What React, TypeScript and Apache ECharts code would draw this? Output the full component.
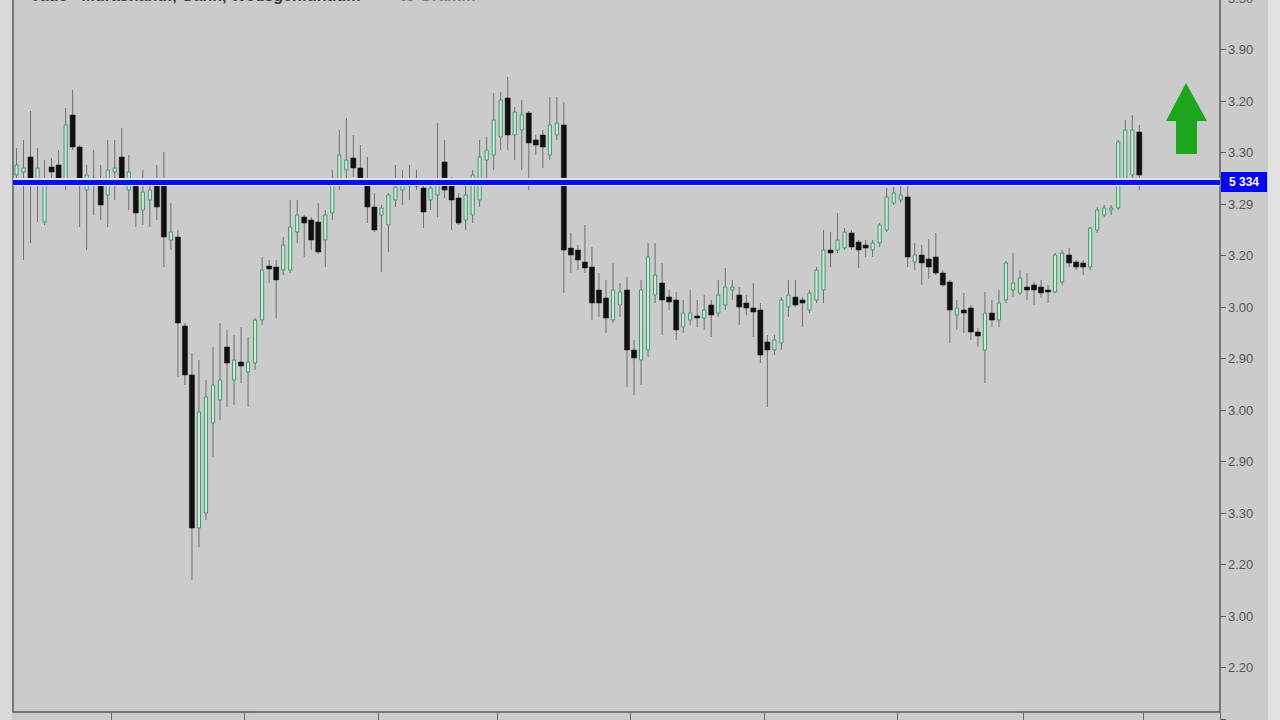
import React, { useEffect, useRef } from "react";
import * as echarts from "echarts";

// [open, close, low, high] in chart price units
const CANDLES: [number, number, number, number][] = [
  [544, 554, 534, 571], [547, 551, 459, 579], [562, 539, 476, 608], [537, 551, 497, 571],
  [497, 539, 494, 559], [552, 547, 539, 561], [554, 541, 537, 569], [539, 594, 529, 611],
  [604, 572, 569, 629], [572, 541, 492, 574], [529, 544, 469, 554], [534, 541, 504, 569],
  [534, 514, 499, 554], [524, 549, 492, 579], [547, 551, 519, 579], [562, 541, 539, 591],
  [529, 547, 509, 564], [534, 506, 492, 536], [509, 527, 494, 549], [519, 529, 492, 541],
  [536, 512, 499, 554], [536, 482, 452, 567], [479, 487, 469, 516], [482, 396, 342, 489],
  [393, 344, 334, 396], [344, 191, 139, 366], [191, 307, 172, 359], [206, 322, 199, 339],
  [296, 334, 262, 372], [319, 339, 299, 396], [372, 356, 312, 389], [339, 359, 314, 384],
  [357, 353, 336, 392], [347, 357, 312, 382], [356, 399, 349, 401], [399, 449, 394, 462],
  [453, 450, 436, 459], [452, 439, 401, 459], [449, 474, 444, 482], [449, 492, 446, 519],
  [487, 504, 476, 519], [502, 496, 462, 504], [499, 479, 469, 502], [497, 467, 465, 516],
  [479, 504, 452, 509], [506, 539, 499, 549], [534, 564, 529, 589], [549, 559, 539, 601],
  [561, 551, 542, 584], [551, 539, 536, 574], [534, 512, 496, 562], [512, 489, 487, 526],
  [504, 511, 447, 514], [494, 524, 467, 526], [519, 532, 512, 554], [529, 536, 514, 549],
  [533, 536, 519, 554], [535, 533, 529, 549], [531, 507, 491, 534], [519, 531, 509, 539],
  [524, 539, 502, 596], [557, 529, 521, 579], [536, 519, 489, 542], [521, 496, 494, 526],
  [499, 524, 489, 539], [504, 544, 496, 549], [519, 562, 512, 579], [559, 569, 539, 582],
  [564, 599, 549, 626], [582, 619, 569, 627], [621, 584, 569, 642], [584, 607, 559, 612],
  [589, 604, 549, 619], [606, 576, 529, 608], [579, 574, 564, 584], [584, 572, 551, 589],
  [564, 594, 559, 622], [584, 596, 579, 622], [594, 469, 426, 617], [471, 464, 446, 486],
  [469, 459, 449, 474], [457, 451, 446, 494], [452, 416, 399, 472], [429, 416, 402, 446],
  [421, 401, 386, 439], [399, 429, 396, 456], [414, 427, 402, 436], [429, 369, 332, 442],
  [369, 361, 324, 379], [359, 429, 334, 439], [369, 462, 362, 476], [424, 444, 416, 476],
  [436, 419, 384, 456], [422, 417, 409, 429], [419, 389, 379, 427], [392, 406, 386, 419],
  [399, 406, 394, 429], [403, 401, 392, 419], [401, 409, 389, 424], [414, 404, 382, 419],
  [406, 424, 402, 439], [414, 432, 409, 451], [429, 432, 419, 439], [424, 412, 394, 432],
  [416, 411, 404, 424], [411, 407, 382, 436], [409, 364, 356, 416], [377, 369, 312, 384],
  [369, 379, 364, 384], [376, 419, 369, 422], [412, 424, 402, 439], [422, 414, 412, 439],
  [419, 416, 392, 422], [409, 426, 406, 429], [419, 449, 416, 452], [429, 469, 416, 489],
  [469, 466, 452, 487], [469, 479, 466, 506], [471, 487, 469, 491], [486, 472, 469, 489],
  [477, 469, 451, 479], [474, 471, 462, 479], [469, 476, 462, 479], [476, 494, 472, 496],
  [489, 522, 487, 531], [516, 526, 514, 532], [519, 524, 516, 534], [522, 462, 452, 534],
  [457, 464, 449, 476], [464, 456, 434, 474], [460, 452, 440, 480], [462, 446, 444, 486],
  [446, 434, 432, 449], [437, 409, 376, 439], [404, 411, 389, 419], [409, 406, 386, 426],
  [411, 387, 379, 414], [387, 383, 372, 391], [369, 406, 336, 427], [406, 399, 392, 419],
  [399, 416, 392, 429], [419, 456, 416, 458], [429, 436, 422, 466], [426, 441, 424, 449],
  [432, 429, 419, 446], [434, 429, 414, 437], [432, 426, 421, 439], [429, 427, 416, 434],
  [427, 464, 426, 466], [437, 466, 434, 469], [464, 456, 452, 471], [457, 452, 449, 459],
  [456, 452, 444, 459], [452, 491, 449, 492], [489, 509, 486, 512], [504, 511, 502, 514],
  [509, 511, 504, 514], [511, 577, 509, 579], [539, 589, 537, 599], [544, 589, 539, 604],
  [587, 544, 529, 594],
];

const CATEGORY_COUNT = 172;
const CATEGORIES = Array.from({ length: CATEGORY_COUNT }, (_, i) => String(i + 1));

// faint green trend line segments: [start index, values]
const TREND_A: [number, number[]] = [26, [289, 304, 319, 329, 334, 339, 341, 349, 374, 409, 429, 439, 449, 464, 479, 484, 487, 489, 497, 519, 544]];
const TREND_B: [number, number[]] = [64, [497, 514, 539, 559, 579, 599]];
const TREND_C: [number, number[]] = [89, [359, 399, 434]];
const TREND_D: [number, number[]] = [113, [414, 429, 449, 464, 471, 477, 479, 479, 481, 484, 494, 514, 522, 526]];
const TREND_E: [number, number[]] = [138, [374, 389, 401, 419, 427, 431, 429, 429, 429, 429, 439, 454, 457, 455, 454, 474, 494, 506, 509, 534, 559, 569]];

const LEVEL = 537;
const LEVEL_LABEL = "5 334";

// y tick labels from bottom (index 0) to top
const Y_LABELS = ["", "2.20", "3.00", "2.20", "3.30", "2.90", "3.00", "2.90", "3.00", "3.20", "3.29", "3.30", "3.20", "3.90", "3.30"];
const Y_INTERVAL = 51.5;
const Y_MAX = 721;

const X_TICKS = [14, 33, 52, 69, 88, 107, 126, 144, 161];

const TITLE = "Vaue - Murashanuf, Gann, Wedsgenfuhtium";
const TITLE_TAIL = "to Gramm";

export default function App() {
  const ref = useRef<HTMLDivElement>(null);

  useEffect(() => {
    if (!ref.current) return;
    const chart = echarts.init(ref.current, null, { renderer: "svg" });

    const trend: (number | string)[] = CATEGORIES.map(() => "-");
    [TREND_A, TREND_B, TREND_C, TREND_D, TREND_E].forEach(([start, vals]) => {
      vals.forEach((v, k) => (trend[start + k] = v));
    });

    const customData = CANDLES.map((d, i) => [i, d[0], d[1], d[2], d[3]]);

    const option: any = {
      animation: false,
      backgroundColor: "#cbcbcb",
      grid: { left: 13, right: 60, top: -2, bottom: 1, containLabel: false, outerBoundsMode: "none" },
      xAxis: {
        type: "category",
        data: CATEGORIES,
        boundaryGap: true,
        offset: -7,
        axisLine: { show: true, onZero: false, lineStyle: { color: "#5c5c5c", width: 1.5 } },
        axisTick: {
          show: true,
          length: 8,
          interval: (index: number) => X_TICKS.includes(index),
          lineStyle: { color: "#6a6a6a", width: 1 },
        },
        axisLabel: { show: false },
        splitLine: { show: false },
      },
      yAxis: {
        type: "value",
        position: "right",
        min: 0,
        max: Y_MAX,
        interval: Y_INTERVAL,
        axisLine: { show: false },
        axisTick: { show: true, length: 6, lineStyle: { color: "#5a5a5a" } },
        axisLabel: {
          margin: 8,
          color: "#555",
          fontSize: 13,
          fontFamily: "Liberation Sans",
          formatter: (v: number) => Y_LABELS[Math.round(v / Y_INTERVAL)] ?? "",
        },
        splitLine: { show: false },
      },
      graphic: [
        { type: "rect", z: -10, shape: { x: 0, y: 0, width: 12, height: 720 }, style: { fill: "#d9d9d9" } },
        { type: "rect", z: -10, shape: { x: 1268, y: 0, width: 12, height: 720 }, style: { fill: "#e2e2e2" } },
        { type: "line", shape: { x1: 13, y1: 0, x2: 13, y2: 712 }, style: { stroke: "#5c5c5c", lineWidth: 1.5 } },
        { type: "line", shape: { x1: 1220, y1: 0, x2: 1220, y2: 712 }, style: { stroke: "#5c5c5c", lineWidth: 1.5 } },
        {
          type: "text",
          x: 30,
          y: 3,
          style: {
            text: TITLE,
            font: "bold 16px Liberation Sans",
            fill: "#3a3a3a",
            verticalAlign: "bottom",
          },
        },
        {
          type: "text",
          x: 400,
          y: 3,
          style: {
            text: TITLE_TAIL,
            font: "bold 16px Liberation Sans",
            fill: "#5a8f6a",
            verticalAlign: "bottom",
          },
        },
        {
          type: "polygon",
          shape: {
            points: [
              [1186, 83], [1207, 121], [1197, 121], [1197, 154],
              [1176, 154], [1176, 121], [1166, 121],
            ],
          },
          style: { fill: "#1ea51e" },
        },
      ],
      series: [
        {
          type: "line",
          data: trend,
          symbol: "none",
          connectNulls: false,
          lineStyle: { color: "#a4e49c", width: 1, opacity: 0.9 },
          z: 1,
          markLine: {
            silent: true,
            symbol: ["none", "none"],
            animation: false,
            data: [
              { yAxis: LEVEL, lineStyle: { color: "#dfe2f2", width: 8, type: "solid" }, label: { show: false } },
              {
                yAxis: LEVEL,
                lineStyle: { color: "#0b10e4", width: 5, type: "solid" },
                label: {
                  show: true,
                  position: "end",
                  distance: 1,
                  formatter: LEVEL_LABEL,
                  color: "#ffffff",
                  backgroundColor: "#0505f0",
                  padding: [4, 8, 4, 8],
                  fontSize: 12,
                  lineHeight: 12,
                  fontFamily: "Liberation Sans",
                  fontWeight: "bold",
                },
              },
            ],
          },
        },
        {
          type: "custom",
          data: customData,
          encode: { x: 0, y: [1, 2, 3, 4] },
          z: 3,
          renderItem: (params: any, api: any) => {
            const idx = api.value(0);
            const o = api.value(1);
            const c = api.value(2);
            const l = api.value(3);
            const h = api.value(4);
            const pO = api.coord([idx, o]);
            const pC = api.coord([idx, c]);
            const pL = api.coord([idx, l]);
            const pH = api.coord([idx, h]);
            const band = api.size([1, 0])[0];
            const up = c >= o;
            const w = up ? band * 0.45 : band * 0.72;
            const x = pO[0];
            const top = Math.min(pO[1], pC[1]);
            const hgt = Math.max(1.5, Math.abs(pO[1] - pC[1]));
            return {
              type: "group",
              children: [
                {
                  type: "line",
                  shape: { x1: x, y1: pH[1], x2: x, y2: pL[1] },
                  style: { stroke: "#6e6e6e", lineWidth: 1 },
                },
                {
                  type: "rect",
                  shape: { x: x - w / 2, y: top, width: w, height: hgt },
                  style: up
                    ? { fill: "#d3e6d8", stroke: "#3a9a6e", lineWidth: 1 }
                    : { fill: "#111111", stroke: "#111111", lineWidth: 0.5 },
                },
              ],
            };
          },
        },
      ],
    };

    chart.setOption(option);
    return () => chart.dispose();
  }, []);

  return (
    <div
      ref={ref}
      style={{ position: "fixed", left: 0, top: 0, width: 1280, height: 720 }}
    />
  );
}
